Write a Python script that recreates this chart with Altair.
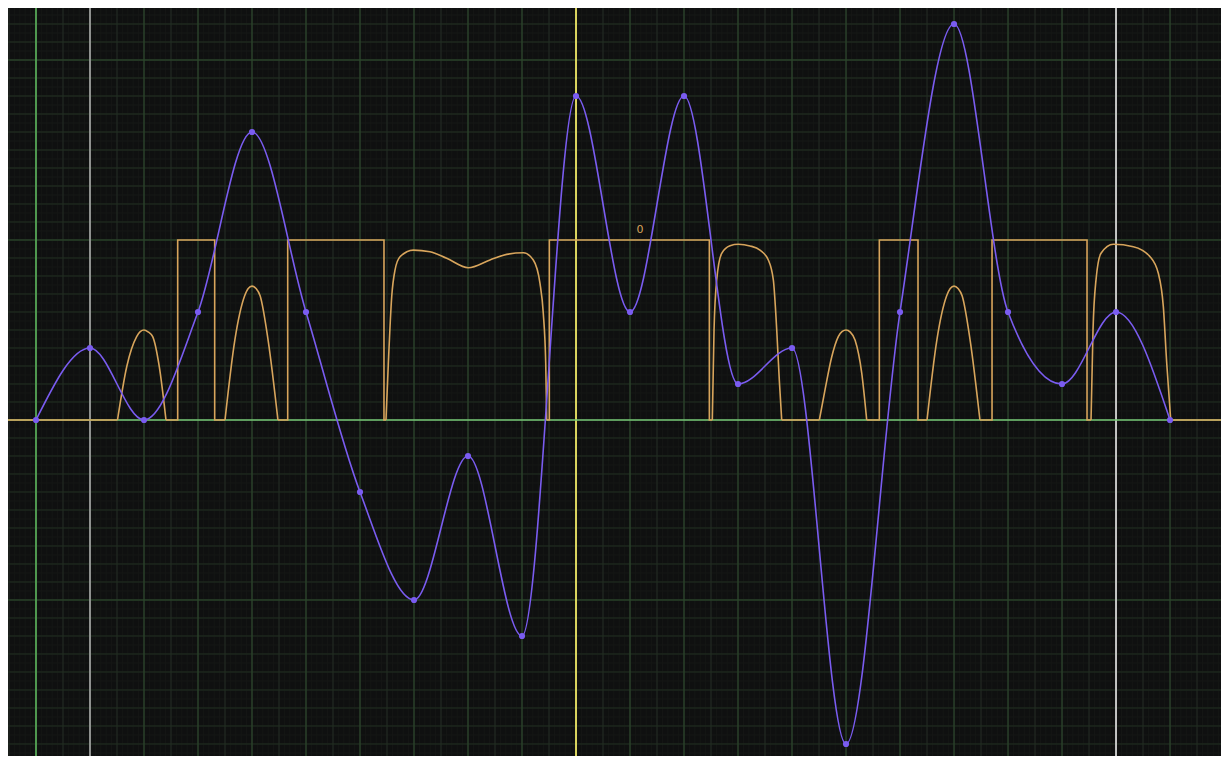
import altair as alt
import numpy as np
import pandas as pd

# ---- keyframes of the purple curve (x in key units, y in value units)
key_x = list(range(22))
key_y = [0, 0.4, 0, 0.6, 1.6, 0.6, -0.4, -1.0, -0.2, -1.2, 1.8, 0.6,
         1.8, 0.2, 0.4, -1.8, 0.6, 2.2, 0.6, 0.2, 0.6, 0]

# ---- orange curve: stepped (box) pieces
step_x = [-0.6, 1.509,
          2.407, 2.624, 2.624, 3.309, 3.309, 3.5,
          4.48, 4.661, 4.661, 6.444, 6.444, 6.481,
          9.457, 9.506, 9.506, 12.469, 12.469, 12.524,
          13.809, 14.506,
          15.383, 15.617, 15.617, 16.333, 16.333, 16.5,
          17.48, 17.704, 17.704, 19.463, 19.463, 19.537,
          21.013, 22.6]
step_y = [0, 0,
          0, 0, 1, 1, 0, 0,
          0, 0, 1, 1, 0, 0,
          0, 0, 1, 1, 0, 0,
          0, 0,
          0, 0, 1, 1, 0, 0,
          0, 0, 1, 1, 0, 0,
          0, 0]
step_seg = [1, 1,
            2, 2, 2, 2, 2, 2,
            3, 3, 3, 3, 3, 3,
            4, 4, 4, 4, 4, 4,
            5, 5,
            6, 6, 6, 6, 6, 6,
            7, 7, 7, 7, 7, 7,
            8, 8]

# ---- orange curve: smooth pieces (bumps and plateaus)
smooth_x = [1.509, 1.68, 1.864, 1.93, 2.0, 2.075, 2.161, 2.283, 2.407,
            3.5, 3.68, 3.864, 3.93, 4.0, 4.075, 4.15, 4.3, 4.48,
            6.481, 6.524, 6.587, 6.648, 6.741, 6.987, 7.296, 7.606, 8.006,
            8.407, 8.717, 9.024, 9.209, 9.333, 9.394, 9.439, 9.457,
            12.524, 12.556, 12.606, 12.698, 12.852, 13.006, 13.222, 13.407,
            13.561, 13.654, 13.717, 13.765, 13.809,
            14.506, 14.611, 14.735, 14.857, 14.93, 15.0, 15.08, 15.167, 15.291, 15.383,
            16.5, 16.68, 16.864, 16.93, 17.0, 17.075, 17.15, 17.3, 17.48,
            19.537, 19.574, 19.63, 19.722, 19.95, 20.32, 20.63, 20.783,
            20.876, 20.939, 21.013]
smooth_y = [0, 0.296, 0.463, 0.491, 0.5, 0.49, 0.463, 0.296, 0,
            0, 0.44, 0.69, 0.731, 0.744, 0.73, 0.69, 0.44, 0,
            0, 0.31, 0.685, 0.833, 0.907, 0.944, 0.935, 0.898, 0.846,
            0.889, 0.92, 0.929, 0.889, 0.759, 0.593, 0.315, 0,
            0, 0.5, 0.78, 0.926, 0.968, 0.976, 0.967, 0.944,
            0.889, 0.778, 0.5, 0.22, 0,
            0, 0.167, 0.35, 0.463, 0.492, 0.5, 0.488, 0.444, 0.26, 0,
            0, 0.44, 0.69, 0.731, 0.744, 0.73, 0.69, 0.44, 0,
            0, 0.5, 0.78, 0.926, 0.976, 0.963, 0.907, 0.815,
            0.63, 0.315, 0]
smooth_seg = [1] * 9 + [2] * 9 + [3] * 17 + [4] * 13 + [5] * 10 + [6] * 9 + [7] * 11

# ---- marker lines and label
marker_x = [0, 1, 10, 20]
marker_color = ["#55a355", "#9c9c9c", "#efe766", "#d4d4d4"]
label_text = ["0"]
label_x = [11.185]
label_y = [1.056]

# ---- grid tick positions
vfine = np.round(np.arange(-0.5, 22.0, 0.1), 3)
vmid = np.arange(-0.5, 22.0, 0.5)
vmaj = np.arange(0, 22, 1)
hfine = np.round(np.arange(-1.85, 2.3, 0.05), 3)
hmid = np.round(np.arange(-1.8, 2.3, 0.1), 3)
hmaj = [-1, 1, 2]

BG = "#0f1010"
ORANGE = "#d8a55c"
PURPLE = "#7a5cf0"

xs = alt.Scale(domain=[-0.5185, 21.944], nice=False, zero=False)
ys = alt.Scale(domain=[-1.8667, 2.2889], nice=False, zero=False)


def vrules(vals, color, w=1.0):
    return alt.Chart(pd.DataFrame({"x": vals})).mark_rule(
        color=color, strokeWidth=w, clip=True
    ).encode(x=alt.X("x:Q", scale=xs, axis=None))


def hrules(vals, color, w=1.0):
    return alt.Chart(pd.DataFrame({"y": vals})).mark_rule(
        color=color, strokeWidth=w, clip=True
    ).encode(y=alt.Y("y:Q", scale=ys, axis=None))


grid = [
    vrules(vfine, "#151715"),
    hrules(hfine, "#161816"),
    vrules(vmid, "#252c25"),
    hrules(hmid, "#223022"),
    vrules(vmaj, "#2d4a2d"),
    hrules(hmaj, "#2d4a2d"),
]

markers = alt.Chart(pd.DataFrame({"x": marker_x, "c": marker_color})).mark_rule(
    strokeWidth=1.8, clip=True
).encode(
    x=alt.X("x:Q", scale=xs, axis=None),
    color=alt.Color("c:N", scale=None, legend=None),
)

zero_line = hrules([0], "#76c776", 1.6)

step_df = pd.DataFrame({"x": step_x, "y": step_y, "seg": step_seg,
                        "i": list(range(len(step_x)))})
steps = alt.Chart(step_df).mark_line(
    color=ORANGE, strokeWidth=1.6, clip=True
).encode(
    x=alt.X("x:Q", scale=xs, axis=None),
    y=alt.Y("y:Q", scale=ys, axis=None),
    detail="seg:N",
    order="i:Q",
)

smooth_df = pd.DataFrame({"x": smooth_x, "y": smooth_y, "seg": smooth_seg,
                          "i": list(range(len(smooth_x)))})
smooth = alt.Chart(smooth_df).mark_line(
    color=ORANGE, strokeWidth=1.6, interpolate="monotone", clip=True
).encode(
    x=alt.X("x:Q", scale=xs, axis=None),
    y=alt.Y("y:Q", scale=ys, axis=None),
    detail="seg:N",
    order="i:Q",
)

key_df = pd.DataFrame({"x": key_x, "y": key_y})
curve = alt.Chart(key_df).mark_line(
    color=PURPLE, strokeWidth=1.6, interpolate="monotone", clip=True
).encode(
    x=alt.X("x:Q", scale=xs, axis=None),
    y=alt.Y("y:Q", scale=ys, axis=None),
)
points = alt.Chart(key_df).mark_circle(
    color=PURPLE, size=38, opacity=1, clip=True
).encode(
    x=alt.X("x:Q", scale=xs, axis=None),
    y=alt.Y("y:Q", scale=ys, axis=None),
)

label = alt.Chart(pd.DataFrame({"x": label_x, "y": label_y, "t": label_text})).mark_text(
    color=ORANGE, fontSize=11, font="DejaVu Sans", align="center", baseline="middle"
).encode(
    x=alt.X("x:Q", scale=xs, axis=None),
    y=alt.Y("y:Q", scale=ys, axis=None),
    text="t:N",
)

chart = alt.layer(
    *grid, markers, zero_line, steps, smooth, curve, points, label
).properties(
    width=1213, height=748, padding=0, background=BG
).configure_view(stroke=None)

chart.save("out.html", embed_options={"renderer": "svg", "actions": False})
